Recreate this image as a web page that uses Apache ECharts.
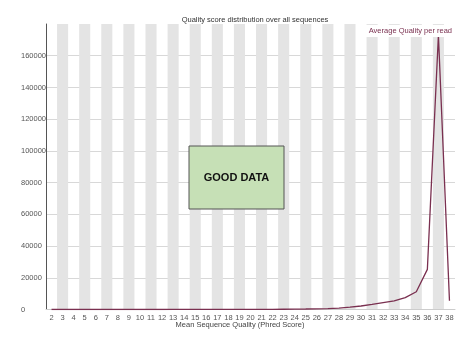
<!DOCTYPE html>
<html><head><meta charset="utf-8">
<script src="https://cdn.jsdelivr.net/npm/echarts@6/dist/echarts.min.js"></script>
<style>html,body{margin:0;padding:0;background:#fff}#c{width:474px;height:355px}</style>
</head><body><div id="c"></div>
<script>
var categories = ['2','3','4','5','6','7','8','9','10','11','12','13','14','15','16','17','18','19','20','21','22','23','24','25','26','27','28','29','30','31','32','33','34','35','36','37','38'];
var avgQuality = [10,10,10,10,10,10,10,10,10,10,10,20,20,30,30,40,50,60,80,100,130,170,220,300,400,600,900,1500,2200,3200,4300,5400,7500,11200,25300,173000,5500];
var yTicks = [0,20000,40000,60000,80000,100000,120000,140000,160000];
var titleText = 'Quality score distribution over all sequences';
var xName = 'Mean Sequence Quality (Phred Score)';
var seriesName = 'Average Quality per read';

var chart = echarts.init(document.getElementById('c'));
chart.setOption({
  animation: false,
  backgroundColor: '#fff',
  textStyle: {fontFamily: 'Liberation Sans, Arial, sans-serif'},
  title: {text: titleText, left: 250, top: 11, textAlign: 'center',
    textStyle: {fontSize: 7.5, fontWeight: 'normal', color: '#333'}},
  legend: {show: true, top: 25, right: 19, itemWidth: 0, itemHeight: 0, icon: 'none', z: 20,
    backgroundColor: '#fff', padding: [2,3], borderWidth: 0,
    textStyle: {fontSize: 7.5, color: '#7a3050'},
    data: [{name: seriesName, icon: 'none'}]},
  grid: {left: 46, right: 19, top: 24, bottom: 45.5, containLabel: false},
  xAxis: {type: 'category', data: categories, boundaryGap: true,
    axisLine: {show: true, lineStyle: {color: '#ccc', width: 1}},
    axisTick: {show: false},
    axisLabel: {fontSize: 7.5, color: '#555', margin: 4, interval: 0},
    splitArea: {show: true, interval: 0, areaStyle: {color: ['rgba(255,255,255,0)', '#e4e4e4']}},
    splitLine: {show: false}},
  yAxis: {type: 'value', min: 0, max: 180000, interval: 20000,
    axisLine: {show: true, lineStyle: {color: '#555', width: 1}},
    axisTick: {show: false},
    axisLabel: {fontSize: 7.5, color: '#555', align: 'left', margin: 25,
      formatter: function(v){ return yTicks.indexOf(v) >= 0 ? String(v) : ''; }},
    splitLine: {show: true, showMaxLine: false, lineStyle: {color: '#d8d8d8', width: 1}}},
  series: [{name: seriesName, type: 'line', data: avgQuality, symbol: 'none',
    lineStyle: {color: '#7a3050', width: 1.3}, itemStyle: {color: '#7a3050'}, z: 3}],
  graphic: [
    {type: 'text', x: 240, y: 325, style: {text: xName, fontSize: 7.5, fill: '#444', align: 'center', verticalAlign: 'middle', fontFamily: 'Liberation Sans, Arial, sans-serif'}},
    {type: 'rect', shape: {x: 189, y: 146, width: 95, height: 63}, style: {fill: '#c6e0b6', stroke: '#555', lineWidth: 1}, z: 10},
    {type: 'text', x: 236.5, y: 177.5, style: {text: 'GOOD DATA', fontSize: 11, fontWeight: 'bold', fill: '#111', align: 'center', verticalAlign: 'middle', fontFamily: 'Liberation Sans, Arial, sans-serif'}, z: 11}
  ]
});
</script></body></html>
